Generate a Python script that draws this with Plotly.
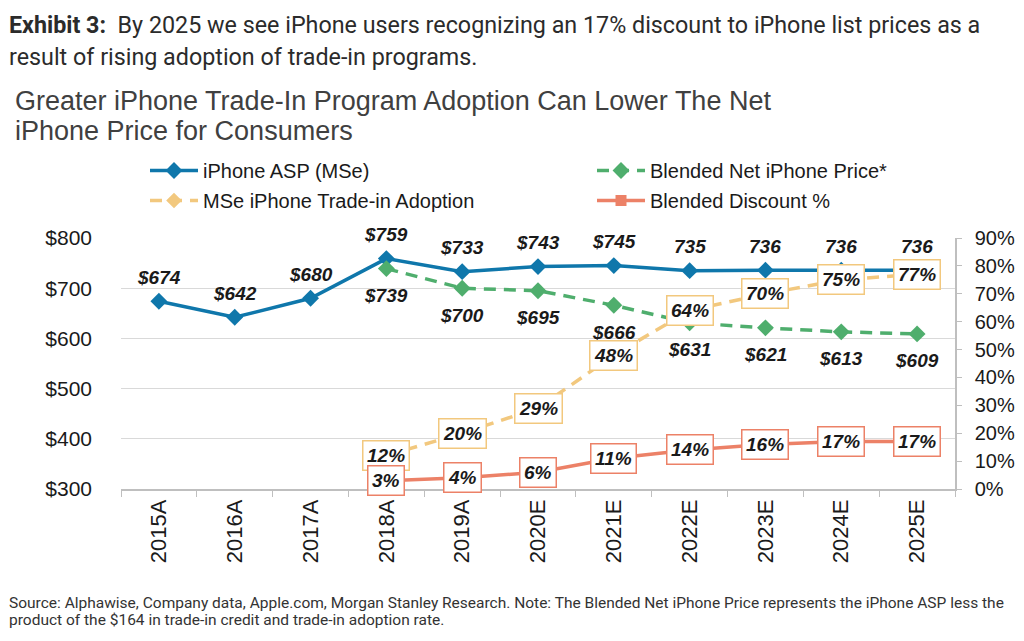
import plotly.graph_objects as go

years = ["2015A", "2016A", "2017A", "2018A", "2019A", "2020E",
         "2021E", "2022E", "2023E", "2024E", "2025E"]
asp = [674, 642, 680, 759, 733, 743, 745, 735, 736, 736, 736]
asp_labels = ["$674", "$642", "$680", "$759", "$733", "$743", "$745",
              "735", "736", "736", "736"]

later_years = years[3:]
net_price = [739, 700, 695, 666, 631, 621, 613, 609]
trade_in = [0.12, 0.20, 0.29, 0.48, 0.64, 0.70, 0.75, 0.77]
discount = [0.03, 0.04, 0.06, 0.11, 0.14, 0.16, 0.17, 0.17]

BLUE = "#0F77AB"
GREEN = "#4FAE6D"
TAN = "#F2C87E"
SALMON = "#EC8167"
CHART_FONT = "Liberation Sans, Arial, sans-serif"
TEXT_FONT = "Roboto, Arial, sans-serif"

# the page body adds an 8px margin, so the figure is drawn 8px in from the window edge
OFF = 8
W, H = 1024 - 2 * OFF, 641 - 2 * OFF
# plot area in window pixels
L, R, T, B = 121, 955, 238, 489


def px(x):
    return (x - L) / (R - L)


def py(y):
    return (B - y) / (B - T)


fig = go.Figure()

fig.add_trace(go.Scatter(
    x=years, y=asp, name="iPhone ASP (MSe)", mode="lines+markers",
    line=dict(color=BLUE, width=3.5),
    marker=dict(symbol="diamond", size=13, color=BLUE),
    legend="legend", legendgroup="a"))

fig.add_trace(go.Scatter(
    x=later_years, y=trade_in, name="MSe iPhone Trade-in Adoption", mode="lines+markers",
    line=dict(color=TAN, width=3.5, dash="12px,8px"),
    marker=dict(symbol="diamond", size=12, color=TAN),
    yaxis="y2", legend="legend", legendgroup="b"))

fig.add_trace(go.Scatter(
    x=later_years, y=net_price, name="Blended Net iPhone Price*", mode="lines+markers",
    line=dict(color=GREEN, width=3.5, dash="12px,8px"),
    marker=dict(symbol="diamond", size=13, color=GREEN),
    legend="legend2", legendgroup="c"))

fig.add_trace(go.Scatter(
    x=later_years, y=discount, name="Blended Discount %", mode="lines+markers",
    line=dict(color=SALMON, width=3.5),
    marker=dict(symbol="square", size=11, color=SALMON),
    yaxis="y2", legend="legend2", legendgroup="d"))

label_font = dict(family=CHART_FONT, size=19, color="#1a1a1a", weight="bold", style="italic")

annotations = []
for yr, v, lab in zip(years, asp, asp_labels):
    annotations.append(dict(x=yr, y=v, text=lab, showarrow=False, yshift=24, font=label_font))
for yr, v in zip(later_years, net_price):
    annotations.append(dict(x=yr, y=v, text=f"${v}", showarrow=False, yshift=-27, font=label_font))
for yr, v in zip(later_years, trade_in):
    annotations.append(dict(x=yr, y=v, yref="y2", text=f"{v:.0%}", showarrow=False,
                            font=label_font, bgcolor="white", bordercolor=TAN,
                            borderwidth=1.5, borderpad=3.5))
for yr, v in zip(later_years, discount):
    annotations.append(dict(x=yr, y=v, yref="y2", text=f"{v:.0%}", showarrow=False,
                            font=label_font, bgcolor="white", bordercolor=SALMON,
                            borderwidth=1.5, borderpad=3.5))

page_texts = [
    ("<b>Exhibit 3:</b>  By 2025 we see iPhone users recognizing an 17% discount to iPhone list prices as a",
     7, 25, TEXT_FONT, 23.3, "#2b2b2b"),
    ("result of rising adoption of trade-in programs.", 7, 57, TEXT_FONT, 23.3, "#2b2b2b"),
    ("Greater iPhone Trade-In Program Adoption Can Lower The Net", 13, 101, CHART_FONT, 27, "#404040"),
    ("iPhone Price for Consumers", 13, 131, CHART_FONT, 27, "#404040"),
    ("Source: Alphawise, Company data, Apple.com, Morgan Stanley Research. Note: The Blended Net "
     "iPhone Price represents the iPhone ASP less the", 7, 603, TEXT_FONT, 15.5, "#333333"),
    ("product of the $164 in trade-in credit and trade-in adoption rate.", 7, 620, TEXT_FONT, 15.5, "#333333"),
]
for text, x0, y0, fam, size, col in page_texts:
    annotations.append(dict(xref="paper", yref="paper", x=px(x0), y=py(y0), text=text,
                            xanchor="left", yanchor="middle", showarrow=False,
                            font=dict(family=fam, size=size, color=col)))

legend_style = dict(
    orientation="v", yanchor="top", y=py(151), xanchor="left",
    font=dict(family=CHART_FONT, size=20, color="#1a1a1a"),
    bgcolor="rgba(0,0,0,0)", tracegroupgap=1, itemwidth=48)

fig.update_layout(
    width=W, height=H,
    margin=dict(l=L - OFF, r=W + OFF - R, t=T - OFF, b=H + OFF - B, autoexpand=False),
    paper_bgcolor="white", plot_bgcolor="white",
    font=dict(family=CHART_FONT, color="#1a1a1a"),
    showlegend=True,
    legend=dict(legend_style, x=px(145)),
    legend2=dict(legend_style, x=px(592)),
    xaxis=dict(type="category", range=[-0.5, 10.5], tickangle=-90, automargin=False,
               ticks="outside", tickson="boundaries", ticklen=6, tickcolor="#bfbfbf",
               showline=True, linecolor="#bfbfbf", linewidth=1.5, showgrid=False,
               tickfont=dict(size=22, color="#1a1a1a")),
    yaxis=dict(range=[300, 800], dtick=100, tickprefix="$", showgrid=True, automargin=False,
               gridcolor="#d9d9d9", gridwidth=1.2, zeroline=False, showline=False,
               ticklabelstandoff=28, tickfont=dict(size=21, color="#1a1a1a")),
    yaxis2=dict(range=[0, 0.9], dtick=0.1, tickformat=".0%", overlaying="y", side="right",
                showgrid=False, zeroline=False, showline=True, linecolor="#bfbfbf",
                linewidth=1.5, ticks="outside", ticklen=5, tickcolor="#bfbfbf",
                automargin=False, ticklabelstandoff=9,
                tickfont=dict(size=20, color="#1a1a1a")),
    annotations=annotations,
)

fig.write_html("out.html")
